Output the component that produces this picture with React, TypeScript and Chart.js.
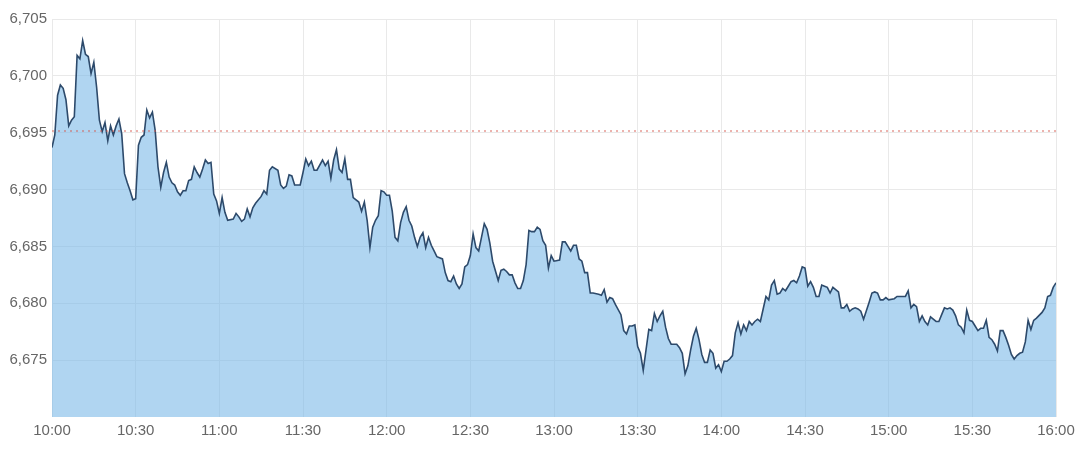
import React, { useEffect, useRef } from "react";
import { Chart, registerables } from "chart.js";

Chart.register(...registerables);

// minutes after 10:00
const minutes: number[] = [
  0, 1, 2, 3, 4, 5, 6, 7, 8, 9, 10, 11, 12, 13, 14, 15, 16, 17, 18, 19, 20, 21, 22, 23, 24, 25, 26, 27, 28, 29,
  30, 31, 32, 33, 34, 35, 36, 37, 38, 39, 40, 41, 42, 43, 44, 45, 46, 47, 48, 49, 50, 51, 52, 53, 54, 55, 56, 57, 58, 59,
  60, 61, 62, 63, 65, 66, 67, 68, 69, 70, 71, 72, 73, 75, 76, 77, 78, 79, 81, 82, 83, 84, 85, 86, 87, 89,
  90, 91, 92, 93, 94, 95, 97, 98, 99, 100, 101, 102, 103, 104, 105, 106, 107, 108, 110, 111, 112, 113, 114, 115, 116, 117, 118, 119,
  120, 121, 122, 123, 124, 125, 126, 127, 128, 129, 130, 131, 132, 133, 134, 135, 136, 137, 138, 140, 141, 142, 143, 144, 145, 146, 147, 148, 149,
  150, 151, 152, 153, 154, 155, 156, 157, 158, 160, 161, 162, 163, 164, 165, 166, 167, 168, 169, 170, 171, 172, 173, 174, 175, 176, 177, 178, 179,
  180, 182, 183, 184, 185, 186, 187, 188, 189, 190, 191, 192, 193, 194, 196, 197, 198, 199, 200, 201, 202, 204, 205, 206, 207, 208, 209,
  210, 211, 212, 213, 214, 215, 216, 217, 218, 219, 220, 221, 222, 224, 225, 226, 227, 228, 229, 230, 231, 232, 233, 234, 235, 236, 237, 238, 239,
  240, 241, 242, 243, 244, 245, 246, 247, 248, 249, 250, 251, 252, 253, 254, 255, 256, 257, 258, 259, 260, 261, 262, 263, 264, 265, 266, 267, 268, 269,
  270, 271, 272, 273, 274, 275, 276, 277, 278, 279, 280, 281, 282, 283, 284, 285, 286, 287, 288, 289, 290, 291, 293, 294, 295, 296, 297, 298, 299,
  300, 302, 303, 305, 306, 307, 308, 309, 310, 311, 312, 313, 314, 315, 316, 317, 318, 319, 320, 321, 322, 323, 324, 325, 326, 327, 328, 329,
  330, 331, 332, 333, 334, 335, 336, 337, 338, 339, 340, 341, 342, 343, 344, 345, 346, 347, 348, 349, 350, 351, 352, 353, 355, 356, 357, 358, 359, 360,
];

const prices: number[] = [
  6693.7, 6694.8, 6698.3, 6699.2, 6698.9, 6697.9, 6695.6, 6696.1, 6696.4, 6701.8, 6701.5, 6703.1, 6701.9, 6701.7, 6700.2, 6701.2, 6699.0, 6696.1, 6695.1, 6695.9, 6694.3, 6695.6, 6694.8, 6695.6, 6696.2, 6694.9, 6691.4, 6690.6, 6689.9, 6689.1,
  6689.2, 6693.9, 6694.6, 6694.8, 6697.0, 6696.3, 6696.8, 6695.2, 6692.0, 6690.2, 6691.5, 6692.4, 6691.1, 6690.6, 6690.4, 6689.8, 6689.5, 6689.9, 6689.9, 6690.8, 6690.9, 6692.0, 6691.5, 6691.1, 6691.8, 6692.6, 6692.3, 6692.4, 6689.6, 6689.0,
  6687.9, 6689.3, 6688.0, 6687.3, 6687.4, 6687.9, 6687.6, 6687.2, 6687.4, 6688.3, 6687.6, 6688.4, 6688.8, 6689.4, 6689.9, 6689.6, 6691.7, 6692.0, 6691.7, 6690.4, 6690.1, 6690.3, 6691.3, 6691.2, 6690.4, 6690.4,
  6691.5, 6692.7, 6692.1, 6692.5, 6691.7, 6691.7, 6692.6, 6692.1, 6692.5, 6691.0, 6692.6, 6693.5, 6691.8, 6691.5, 6692.7, 6690.9, 6690.9, 6689.3, 6688.9, 6688.1, 6688.9, 6687.3, 6684.9, 6686.7, 6687.3, 6687.7, 6689.9, 6689.8,
  6689.5, 6689.5, 6688.1, 6685.8, 6685.5, 6687.1, 6688.0, 6688.5, 6687.3, 6686.8, 6685.8, 6685.0, 6685.8, 6686.2, 6684.9, 6685.8, 6685.1, 6684.6, 6684.1, 6683.9, 6682.7, 6682.0, 6681.9, 6682.4, 6681.7, 6681.3, 6681.7, 6683.2, 6683.4,
  6684.2, 6686.1, 6684.9, 6684.6, 6685.8, 6687.0, 6686.5, 6685.3, 6683.7, 6682.0, 6682.9, 6683.0, 6682.8, 6682.5, 6682.5, 6681.8, 6681.3, 6681.3, 6682.0, 6683.4, 6686.4, 6686.3, 6686.3, 6686.7, 6686.5, 6685.5, 6685.1, 6683.1, 6684.2,
  6683.7, 6683.8, 6685.4, 6685.4, 6685.0, 6684.6, 6685.1, 6685.1, 6683.9, 6683.7, 6682.7, 6682.7, 6680.9, 6680.9, 6680.8, 6680.7, 6681.2, 6680.1, 6680.5, 6680.4, 6679.9, 6679.0, 6677.6, 6677.3, 6678.0, 6678.0, 6678.1,
  6676.2, 6675.6, 6674.1, 6675.9, 6677.7, 6677.6, 6679.1, 6678.4, 6678.9, 6679.3, 6677.9, 6676.9, 6676.4, 6676.4, 6676.1, 6675.6, 6673.8, 6674.5, 6675.9, 6677.1, 6677.8, 6676.8, 6675.5, 6674.8, 6674.8, 6675.9, 6675.6, 6674.3, 6674.6,
  6674.0, 6674.9, 6674.9, 6675.1, 6675.4, 6677.4, 6678.3, 6677.3, 6678.1, 6677.6, 6678.4, 6678.1, 6678.4, 6678.6, 6678.4, 6679.5, 6680.6, 6680.3, 6681.6, 6682.0, 6680.8, 6680.9, 6681.3, 6681.1, 6681.5, 6681.9, 6682.0, 6681.8, 6682.4, 6683.2,
  6683.1, 6681.5, 6681.9, 6681.4, 6680.6, 6680.6, 6681.6, 6681.5, 6681.4, 6680.9, 6681.4, 6681.2, 6681.0, 6679.6, 6679.6, 6679.9, 6679.3, 6679.5, 6679.6, 6679.5, 6679.3, 6678.6, 6680.1, 6680.9, 6681.0, 6680.9, 6680.3, 6680.3, 6680.5,
  6680.3, 6680.4, 6680.6, 6680.6, 6680.6, 6681.1, 6679.6, 6679.9, 6679.7, 6678.4, 6678.9, 6678.4, 6678.1, 6678.8, 6678.6, 6678.4, 6678.4, 6679.0, 6679.6, 6679.5, 6679.6, 6679.4, 6678.9, 6678.1, 6677.9, 6677.4, 6679.4, 6678.5,
  6678.4, 6678.0, 6677.6, 6677.8, 6677.8, 6678.5, 6677.0, 6676.8, 6676.4, 6675.8, 6677.6, 6677.6, 6677.0, 6676.3, 6675.5, 6675.1, 6675.4, 6675.6, 6675.7, 6676.6, 6678.5, 6677.7, 6678.5, 6678.7, 6679.2, 6679.6, 6680.6, 6680.7, 6681.4, 6681.8,
];

const previousClose = 6695.15;
const yMin = 6670;
const yMax = 6705;
const yStep = 5;
const xMin = 0;
const xMax = 360;
const xStep = 30;

const fmtTime = (v: number) => {
  const h = 10 + Math.floor(v / 60);
  const m = Math.round(v % 60);
  return `${h}:${m.toString().padStart(2, "0")}`;
};

export default function App() {
  const ref = useRef<HTMLCanvasElement | null>(null);

  useEffect(() => {
    if (!ref.current) return;
    const series = minutes.map((m, i) => ({ x: m, y: prices[i] }));
    const font = { family: "'Liberation Sans', Arial, sans-serif", size: 15 };
    const chart = new Chart(ref.current, {
      type: "line",
      data: {
        datasets: [
          {
            data: series,
            borderColor: "#2d4a6b",
            borderWidth: 1.6,
            backgroundColor: "rgba(124,185,232,0.6)",
            fill: "start",
            pointRadius: 0,
            tension: 0,
            order: 1,
          },
          {
            data: [
              { x: xMin, y: previousClose },
              { x: xMax, y: previousClose },
            ],
            borderColor: "rgba(214,84,74,0.9)",
            borderWidth: 1,
            borderDash: [2, 4],
            pointRadius: 0,
            fill: false,
            order: 0,
          },
        ],
      },
      options: {
        responsive: false,
        animation: false,
        layout: { padding: { left: 0, right: 24, top: 19, bottom: 0 } },
        plugins: { legend: { display: false }, tooltip: { enabled: false } },
        scales: {
          x: {
            type: "linear",
            min: xMin,
            max: xMax,
            afterFit: (s: any) => {
              s.height = 40;
            },
            ticks: {
              stepSize: xStep,
              autoSkip: false,
              maxRotation: 0,
              padding: 5,
              color: "#666",
              font,
              callback: (v: any) => fmtTime(Number(v)),
            },
            grid: { color: "#e9e9e9", drawTicks: false },
            border: { display: false },
          },
          y: {
            min: yMin,
            max: yMax,
            afterFit: (s: any) => {
              s.width = 52;
            },
            afterBuildTicks: (s: any) => {
              s.ticks = s.ticks.filter((t: any) => t.value !== yMin);
            },
            ticks: {
              stepSize: yStep,
              padding: 5,
              color: "#666",
              font,
              callback: (v: any) => Number(v).toLocaleString("en-US"),
            },
            grid: { color: "#e9e9e9", drawTicks: false },
            border: { display: false },
          },
        },
      },
    } as any);
    return () => chart.destroy();
  }, []);

  return (
    <div style={{ position: "fixed", left: 0, top: 0, width: 1080, height: 457, background: "#fff" }}>
      <canvas ref={ref} width={1080} height={457} />
    </div>
  );
}
